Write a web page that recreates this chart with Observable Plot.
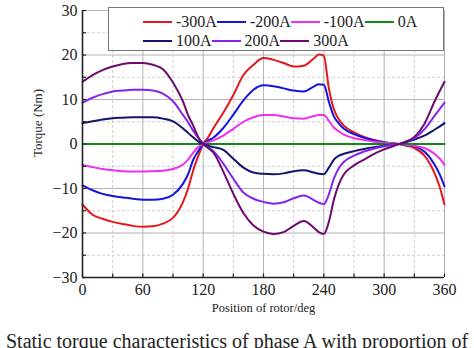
<!DOCTYPE html>
<html>
<head>
<meta charset="utf-8">
<script src="https://cdn.jsdelivr.net/npm/d3@7"></script>
<script src="https://cdn.jsdelivr.net/npm/@observablehq/plot@0.6"></script>
<style>
  html, body { margin: 0; padding: 0; background: #fff; }
  #wrap { position: relative; width: 474px; height: 348px; overflow: hidden; font-family: "Liberation Serif", "Times New Roman", serif; }
  #chart svg text { font-family: "Liberation Serif", "Times New Roman", serif; }
  #legend { position: absolute; left: 108px; top: 7px; width: 336px; height: 44px; border: 1px solid #777; background: #fff; box-sizing: border-box; padding-left: 34px; padding-top: 4px; }
  .lrow { display: flex; align-items: center; height: 19px; font-size: 16px; color: #222; white-space: nowrap; font-family: "Liberation Serif", "Times New Roman", serif; }
  .sw { display: inline-block; width: 29px; height: 2px; margin-right: 4px; }
  #caption { position: absolute; left: 6px; top: 331px; font-size: 20px; line-height: 20px; color: #222; white-space: nowrap; }
</style>
</head>
<body>
<div id="wrap">
  <div id="chart"></div>
  <div id="legend"></div>
  <div id="caption"></div>
</div>
<script>
const angle = [0,10,20,30,40,50,60,70,80,90,100,105,110,115,120,125,130,140,150,160,170,180,190,200,210,220,230,235,240,245,250,255,260,270,280,290,300,310,315,320,330,340,350,355,360];

const seriesNames = ["-300A","-200A","-100A","0A","100A","200A","300A"];
const seriesColors = ["#e5161c","#1414e0","#f02ef0","#138a13","#14146e","#8424ee","#6e0a6e"];

const tNeg300 = [-13.6,-15.9,-16.8,-17.5,-18.0,-18.4,-18.6,-18.5,-17.9,-16.6,-13.0,-10.0,-6.0,-2.8,0,1.5,3.5,7.0,11.0,15.5,17.8,19.3,18.9,18.2,17.4,17.6,19.2,20.1,19.8,12.5,7.8,5.5,4.1,2.6,1.6,0.9,0.4,0.1,0,-0.3,-0.9,-2.6,-6.5,-9.5,-13.6];
const tNeg200 = [-9.3,-10.4,-11.2,-11.7,-12.0,-12.3,-12.5,-12.5,-12.3,-11.4,-8.9,-6.8,-3.6,-1.6,0,0.8,1.4,3.6,6.6,9.8,12.2,13.2,13.0,12.5,12.0,11.8,12.9,13.4,13.3,9.5,6.2,4.6,3.4,2.2,1.4,0.8,0.4,0.1,0,-0.2,-0.5,-1.7,-4.6,-6.7,-9.5];
const tNeg100 = [-4.7,-5.2,-5.6,-5.9,-6.1,-6.2,-6.2,-6.1,-6.0,-5.6,-4.6,-3.5,-2.0,-0.7,0,0.4,0.8,1.9,3.4,5.0,6.0,6.5,6.5,6.2,5.8,5.7,6.3,6.5,6.5,5.2,3.7,2.8,2.1,1.3,0.9,0.5,0.3,0.1,0,-0.1,-0.4,-0.9,-2.2,-3.2,-4.7];
const t0 = [0,0,0,0,0,0,0,0,0,0,0,0,0,0,0,0,0,0,0,0,0,0,0,0,0,0,0,0,0,0,0,0,0,0,0,0,0,0,0,0,0,0,0,0,0];
const t100 = [4.7,5.1,5.5,5.8,5.9,6.0,6.0,6.0,5.7,5.1,3.5,2.5,1.5,0.6,0,-0.4,-0.7,-1.3,-3.3,-5.3,-6.4,-6.7,-6.8,-6.6,-6.1,-5.9,-6.4,-6.7,-6.8,-5.3,-3.5,-2.6,-2.2,-1.6,-1.1,-0.7,-0.4,-0.1,0,0.3,1.0,1.9,3.2,3.9,4.7];
const t200 = [9.3,10.4,11.2,11.8,12.0,12.2,12.2,12.0,11.3,9.6,6.5,4.9,3.0,1.4,0,-0.8,-1.6,-4.4,-7.8,-10.9,-12.3,-13.0,-13.4,-13.1,-12.2,-11.6,-12.6,-13.2,-13.5,-11.3,-7.8,-5.4,-4.0,-2.6,-1.7,-1.0,-0.5,-0.1,0,0.4,1.3,3.3,6.3,7.8,9.3];
const t300 = [14.0,15.5,16.6,17.4,18.0,18.2,18.2,17.8,16.8,13.8,9.5,6.5,4.2,1.6,0,-0.9,-1.9,-6.2,-11.2,-15.5,-18.3,-19.7,-20.2,-19.8,-18.4,-17.3,-18.8,-19.8,-20.2,-17.5,-12.5,-9.0,-6.8,-4.8,-3.5,-2.2,-1.2,-0.4,0,0.4,1.6,4.5,9.5,11.8,14.0];

const xMajor = [0,60,120,180,240,300,360];
const xMinor = [30,90,150,210,270,330];
const yMajor = [-30,-20,-10,0,10,20,30];
const yMinor = [-25,-15,-5,5,15,25];
const xLabel = "Position of rotor/deg";
const yLabel = "Torque (Nm)";
const captionText = "Static torque characteristics of phase A with proportion of";

const seriesValues = [tNeg300, tNeg200, tNeg100, t0, t100, t200, t300];
const rows = [];
seriesNames.forEach((name, i) => {
  seriesValues[i].forEach((v, j) => rows.push({series: name, angle: angle[j], torque: v}));
});

const serif = "'Liberation Serif', 'Times New Roman', serif";

const chart = Plot.plot({
  width: 474,
  height: 320,
  marginLeft: 82,
  marginRight: 30,
  marginTop: 10,
  marginBottom: 43,
  style: {fontFamily: serif, fontSize: "16px", color: "#222", background: "transparent"},
  x: {domain: [0, 360]},
  y: {domain: [-30, 30]},
  color: {domain: seriesNames, range: seriesColors},
  marks: [
    Plot.ruleX(xMinor, {stroke: "#cfcfcf", strokeDasharray: "3,2"}),
    Plot.ruleY(yMinor, {stroke: "#cfcfcf", strokeDasharray: "3,2"}),
    Plot.ruleX(xMajor, {stroke: "#b4b4b4"}),
    Plot.ruleY(yMajor, {stroke: "#b4b4b4"}),
    Plot.line(rows, {x: "angle", y: "torque", z: "series", stroke: "series", strokeWidth: 2, curve: "monotone-x"}),
    Plot.ruleX([0], {stroke: "#222", strokeWidth: 1.6}),
    Plot.ruleY([-30], {stroke: "#222", strokeWidth: 1.6}),
    Plot.ruleY(yMajor.concat(yMinor), {x1: 0, x2: 4, stroke: "#222", strokeWidth: 1.2}),
    Plot.ruleX(xMajor.concat(xMinor), {y1: -30, y2: -29.2, stroke: "#222", strokeWidth: 1.2}),
    Plot.axisX({ticks: xMajor, tickSize: 0, tickPadding: 6, label: null, fontSize: 16, fontFamily: serif}),
    Plot.axisY({ticks: yMajor, tickSize: 0, tickPadding: 5, label: null, fontSize: 16, fontFamily: serif}),
    Plot.text([xLabel], {frameAnchor: "bottom", dy: 34, fontSize: 12.5, fill: "#222", fontFamily: serif}),
    Plot.text([yLabel], {frameAnchor: "left", rotate: -90, dx: -45, dy: 13, fontSize: 13, fill: "#222", fontFamily: serif})
  ]
});
document.getElementById("chart").appendChild(chart);

const legend = document.getElementById("legend");
[seriesNames.slice(0, 4), seriesNames.slice(4)].forEach(group => {
  const row = document.createElement("div");
  row.className = "lrow";
  group.forEach(name => {
    const sw = document.createElement("span");
    sw.className = "sw";
    sw.style.background = seriesColors[seriesNames.indexOf(name)];
    const lab = document.createElement("span");
    lab.textContent = name;
    row.appendChild(sw);
    row.appendChild(lab);
  });
  legend.appendChild(row);
});
document.getElementById("caption").textContent = captionText;
</script>
</body>
</html>
